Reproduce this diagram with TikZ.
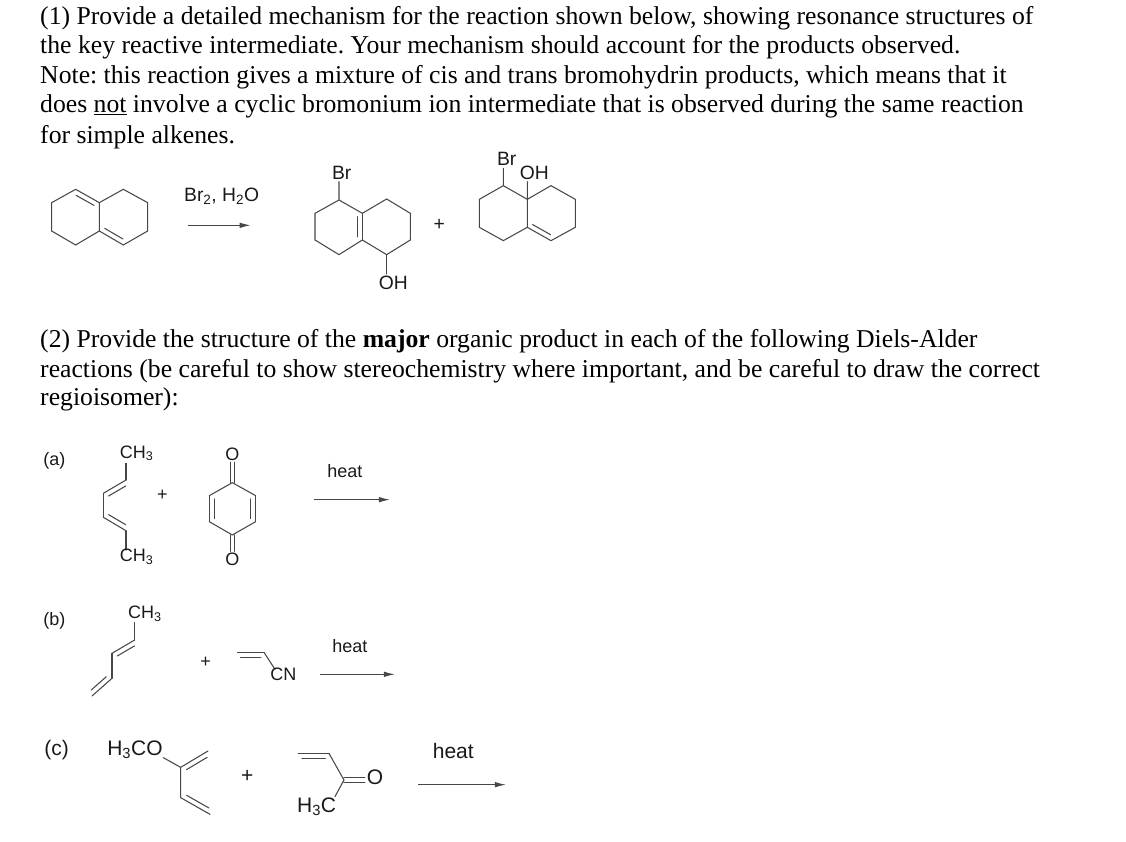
\documentclass[tikz,border=0pt]{standalone}
\usepackage{fontspec}
\setmainfont{Liberation Serif}
\newfontfamily\labelfont{Liberation Sans}
\usetikzlibrary{arrows.meta,calc}
\tikzset{
  bond/.style={draw=black!72, line width=1.05pt, line cap=round},
  rxn/.style={draw=black!72, line width=1.05pt, -{Latex[length=11pt,width=5.5pt]}},
  txt/.style={anchor=base west, inner sep=0pt, font=\fontsize{25.7}{30}\selectfont},
  lbl/.style={inner sep=1.5pt, text=black!90, font=\labelfont\fontsize{18}{20}\selectfont},
  lblm/.style={lbl, font=\labelfont\fontsize{19.3}{20}\selectfont},
  lblc/.style={lbl, font=\labelfont\fontsize{21}{22}\selectfont},
}
% double bond: outer line, then an inner one on the side given by #3 (pt, signed)
\newcommand{\dbl}[3]{
  \draw[bond] (#1) -- (#2);
  \draw[bond] ($(#1)!.12!(#2)!#3!90:(#2)$) -- ($(#2)!.12!(#1)!#3!-90:(#1)$);
}
\begin{document}
\frenchspacing
\begin{tikzpicture}[x=1pt,y=-1pt]
\useasboundingbox (0,0) rectangle (1126,842);

\node[txt] (q1a) at (40,25) {(1) Provide a detailed mechanism for the reaction shown below, showing resonance structures of};
\node[txt] (q1b) at (40,54) {the key reactive intermediate. Your mechanism should account for the products observed.};
\node[txt] (q1c) at (40,84) {Note: this reaction gives a mixture of cis and trans bromohydrin products, which means that it};
\node[txt] (q1d) at (40,113) {does \underline{not} involve a cyclic bromonium ion intermediate that is observed during the same reaction};
\node[txt] (q1e) at (40,144) {for simple alkenes.};
\node[txt] (q2a) at (40,347) {(2) Provide the structure of the \textbf{major} organic product in each of the following Diels-Alder};
\node[txt] (q2b) at (40,377) {reactions (be careful to show stereochemistry where important, and be careful to draw the correct};
\node[txt] (q2c) at (40,405) {regioisomer):};

% reaction 1
\begin{scope}[shift={(40,150)},x=.3333pt,y=-.3333pt]
\foreach \n/\p in {1/{35,158},2/{107,118},3/{178,158},4/{250,118},5/{323,158},6/{323,243},7/{250,285},8/{178,243},9/{107,285},10/{35,243}}
  \coordinate (s\n) at (\p);
\draw[bond] (s2) -- (s1) -- (s10) -- (s9) -- (s8) -- (s3) -- (s4) -- (s5) -- (s6) -- (s7);
\dbl{s2}{s3}{-5pt}
\dbl{s8}{s7}{5pt}

\node[lblm] (reagent) at (545,138) {Br\textsubscript{2}, H\textsubscript{2}O};
\coordinate (arr1a) at (445,226);
\coordinate (arr1b) at (632,226);
\draw[rxn] (arr1a) -- (arr1b);
\end{scope}

\begin{scope}[shift={(300,150)},x=.3333pt,y=-.3333pt]
\foreach \n/\p in {1/{117,150},2/{45,190},3/{45,270},4/{117,314},5/{187,270},6/{187,190},7/{260,147},8/{331,190},9/{331,270},10/{260,314},11/{117,95},12/{260,372}}
  \coordinate (p\n) at (\p);
\draw[bond] (p11) -- (p1) -- (p2) -- (p3) -- (p4) -- (p5) -- (p10) -- (p9) -- (p8) -- (p7) -- (p6) -- (p1);
\draw[bond] (p10) -- (p12);
\dbl{p6}{p5}{-5pt}
\node[lblm] (brA) at (125,68) {Br};
\node[lblm] (ohA) at (280,398) {OH};
\node[lblm] (plus1) at (418,226) {+};

\foreach \n/\p in {1/{610,107},2/{538,148},3/{538,232},4/{610,272},5/{682,232},6/{682,148},7/{753,107},8/{826,148},9/{826,232},10/{753,272},11/{610,55},12/{682,95}}
  \coordinate (r\n) at (\p);
\draw[bond] (r11) -- (r1) -- (r2) -- (r3) -- (r4) -- (r5) -- (r6) -- (r1);
\draw[bond] (r12) -- (r6) -- (r7) -- (r8) -- (r9) -- (r10);
\dbl{r5}{r10}{5pt}
\node[lblm] (brB) at (620,28) {Br};
\node[lblm] (ohB) at (703,68) {OH};
\end{scope}

% (a)
\begin{scope}[shift={(30,430)},x=.3333pt,y=-.3333pt]
\node[lbl] (tagA) at (73,92) {(a)};
\foreach \n/\p in {1/{288,100},2/{288,150},3/{220,190},4/{220,262},5/{288,302},6/{288,360}}
  \coordinate (a\n) at (\p);
\draw[bond] (a1) -- (a2);
\dbl{a2}{a3}{5pt}
\draw[bond] (a3) -- (a4);
\dbl{a4}{a5}{5pt}
\draw[bond] (a5) -- (a6);
\node[lbl] (meA) at (320,70) {CH\textsubscript{3}};
\node[lbl] (meB) at (320,380) {CH\textsubscript{3}};
\node[lbl] (plusA) at (397,197) {+};

\node[lbl] (oxA) at (607,72) {O};
\node[lbl] (oxB) at (607,388) {O};
\foreach \n/\p in {1/{607,158},2/{677,197},3/{677,275},4/{607,315},5/{538,275},6/{538,197}}
  \coordinate (q\n) at (\p);
\draw[bond] (q6) -- (q1) -- (q2);
\draw[bond] (q3) -- (q4) -- (q5);
\dbl{q2}{q3}{-5pt}
\dbl{q6}{q5}{5pt}
\draw[bond,transform canvas={xshift=-1.8pt}] (q1) -- (oxA);
\draw[bond,transform canvas={xshift=1.8pt}] (q1) -- (oxA);
\draw[bond,transform canvas={xshift=-1.8pt}] (q4) -- (oxB);
\draw[bond,transform canvas={xshift=1.8pt}] (q4) -- (oxB);

\node[lbl] (heatA) at (945,122) {heat};
\coordinate (arrAa) at (852,209);
\coordinate (arrAb) at (1080,209);
\draw[rxn] (arrAa) -- (arrAb);
\end{scope}

% (b)
\begin{scope}[shift={(30,590)},x=.3333pt,y=-.3333pt]
\node[lbl] (tagB) at (73,92) {(b)};
\foreach \n/\p in {1/{314,97},2/{314,150},3/{246,190},4/{246,265},5/{186,318}}
  \coordinate (b\n) at (\p);
\draw[bond] (b1) -- (b2);
\dbl{b2}{b3}{5pt}
\draw[bond] (b3) -- (b4);
\dbl{b4}{b5}{-5pt}
\node[lbl] (meC) at (345,72) {CH\textsubscript{3}};
\node[lbl] (plusB) at (527,217) {+};

\foreach \n/\p in {1/{622,187},2/{702,187},3/{735,238}}
  \coordinate (n\n) at (\p);
\dbl{n1}{n2}{-5pt}
\draw[bond] (n2) -- (n3);
\node[lbl] (cyano) at (760,252) {CN};
\node[lbl] (heatB) at (960,167) {heat};
\coordinate (arrBa) at (870,253);
\coordinate (arrBb) at (1095,253);
\draw[rxn] (arrBa) -- (arrBb);
\end{scope}

% (c)
\begin{scope}[shift={(30,725)},x=.3333pt,y=-.3333pt]
\node[lblc] (tagC) at (80,75) {(c)};
\node[lblc] (meth) at (315,75) {H\textsubscript{3}CO};
\foreach \n/\p in {1/{400,98},2/{452,127},3/{534,78},4/{452,218},5/{540,268}}
  \coordinate (c\n) at (\p);
\draw[bond] (c1) -- (c2) -- (c4);
\dbl{c2}{c3}{-5pt}
\dbl{c4}{c5}{5pt}
\node[lblc] (plusC) at (652,155) {+};

\foreach \n/\p in {1/{805,85},2/{897,85},3/{942,165},4/{1005,165},5/{915,215}}
  \coordinate (k\n) at (\p);
\dbl{k1}{k2}{-5pt}
\draw[bond] (k2) -- (k3) -- (k5);
\draw[bond,transform canvas={yshift=2.2pt}] (k3) -- (k4);
\draw[bond,transform canvas={yshift=-2.2pt}] (k3) -- (k4);
\node[lblc] (oxC) at (1035,158) {O};
\node[lblc] (meD) at (860,245) {H\textsubscript{3}C};
\node[lblc] (heatC) at (1270,78) {heat};
\coordinate (arrCa) at (1165,179);
\coordinate (arrCb) at (1428,179);
\draw[rxn] (arrCa) -- (arrCb);
\end{scope}

\end{tikzpicture}
\end{document}
